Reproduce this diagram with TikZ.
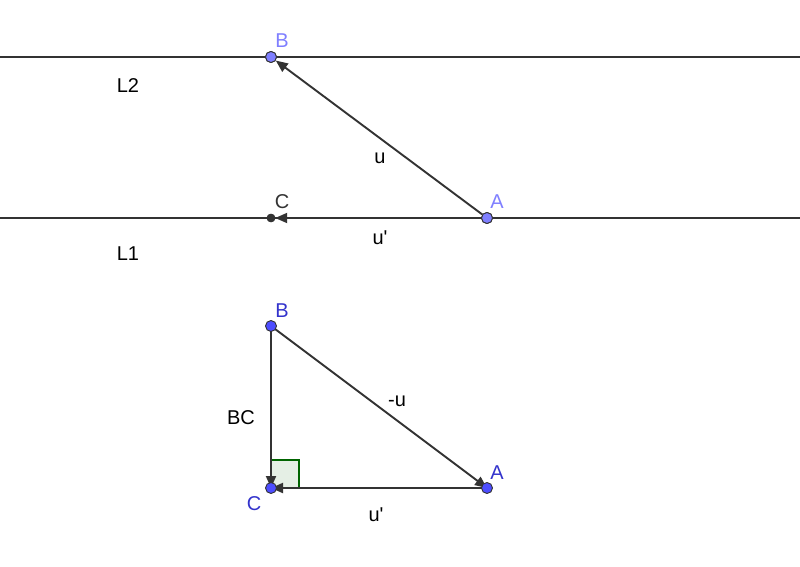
\documentclass[tikz,border=0pt]{standalone}
\usepackage{fontspec}
\setmainfont{Liberation Sans}
\usetikzlibrary{arrows.meta}
\definecolor{lineg}{HTML}{333333}
\definecolor{freept}{HTML}{7F7FFF}
\definecolor{bluept}{HTML}{4D4DFF}
\definecolor{lblB}{HTML}{3333CC}
\definecolor{angleg}{HTML}{006400}
\tikzset{
  every node/.style={font=\fontsize{20}{23}\selectfont},
  axline/.style={draw=lineg, line width=1.6pt},
  vec/.style={draw=lineg, line width=1.9pt, -{Triangle[length=12pt,width=10pt]}},
  ptlight/.style={circle, fill=freept, draw=lineg, line width=0.9pt, inner sep=0pt, minimum size=11pt},
  ptdark/.style={circle, fill=lineg, draw=lineg, inner sep=0pt, minimum size=8pt},
  ptblue/.style={circle, fill=bluept, draw=lineg, line width=0.9pt, inner sep=0pt, minimum size=11pt},
  lbl/.style={text=black},
}
\begin{document}
\begin{tikzpicture}[x=1pt,y=-1pt]
\useasboundingbox (0,0) rectangle (800,567);
\fill[white] (0,0) rectangle (800,567);
% top
\coordinate (L2a) at (0,57); \coordinate (L2b) at (800,57);
\coordinate (L1a) at (0,218); \coordinate (L1b) at (800,218);
\draw[axline] (L2a) -- (L2b);
\draw[axline] (L1a) -- (L1b);
\node[ptlight] (tB) at (271,57) {};
\node[ptlight] (tA) at (487,218) {};
\node[ptdark] (tC) at (271,218) {};
\draw[vec] (tA) -- (tB);
\draw[vec] (tA) -- (tC);
\node[ptlight] at (tB) {};
\node[ptlight] at (tA) {};
\node[ptdark] at (tC) {};
\node[text=freept] (tBl) at (282,41) {B};
\node[text=freept] (tAl) at (497,202) {A};
\node[text=lineg] (tCl) at (282,202) {C};
\node[lbl] (L2) at (128,86) {L2};
\node[lbl] (L1) at (128,254) {L1};
\node[lbl] (u) at (380,158) {u};
\node[lbl] (up) at (380,238) {u\textquotesingle};
% bottom
\coordinate (bB) at (271,326);
\coordinate (bC) at (271,488);
\coordinate (bA) at (487,488);
\filldraw[draw=angleg, fill=angleg!10, line width=1.6pt] (271,460) rectangle (299,488);
\draw[vec] (bB) -- (bC);
\draw[vec] (bB) -- (bA);
\draw[vec] (bA) -- (bC);
\node[ptblue] (nB) at (bB) {};
\node[ptblue] (nC) at (bC) {};
\node[ptblue] (nA) at (bA) {};
\node[text=lblB] (bBl) at (282,311) {B};
\node[text=lblB] (bAl) at (497,473) {A};
\node[text=lblB] (bCl) at (254,504) {C};
\node[lbl] (BC) at (241,418) {BC};
\node[lbl] (mu) at (397,401) {-u};
\node[lbl] (up2) at (376,515) {u\textquotesingle};
\end{tikzpicture}
\end{document}
